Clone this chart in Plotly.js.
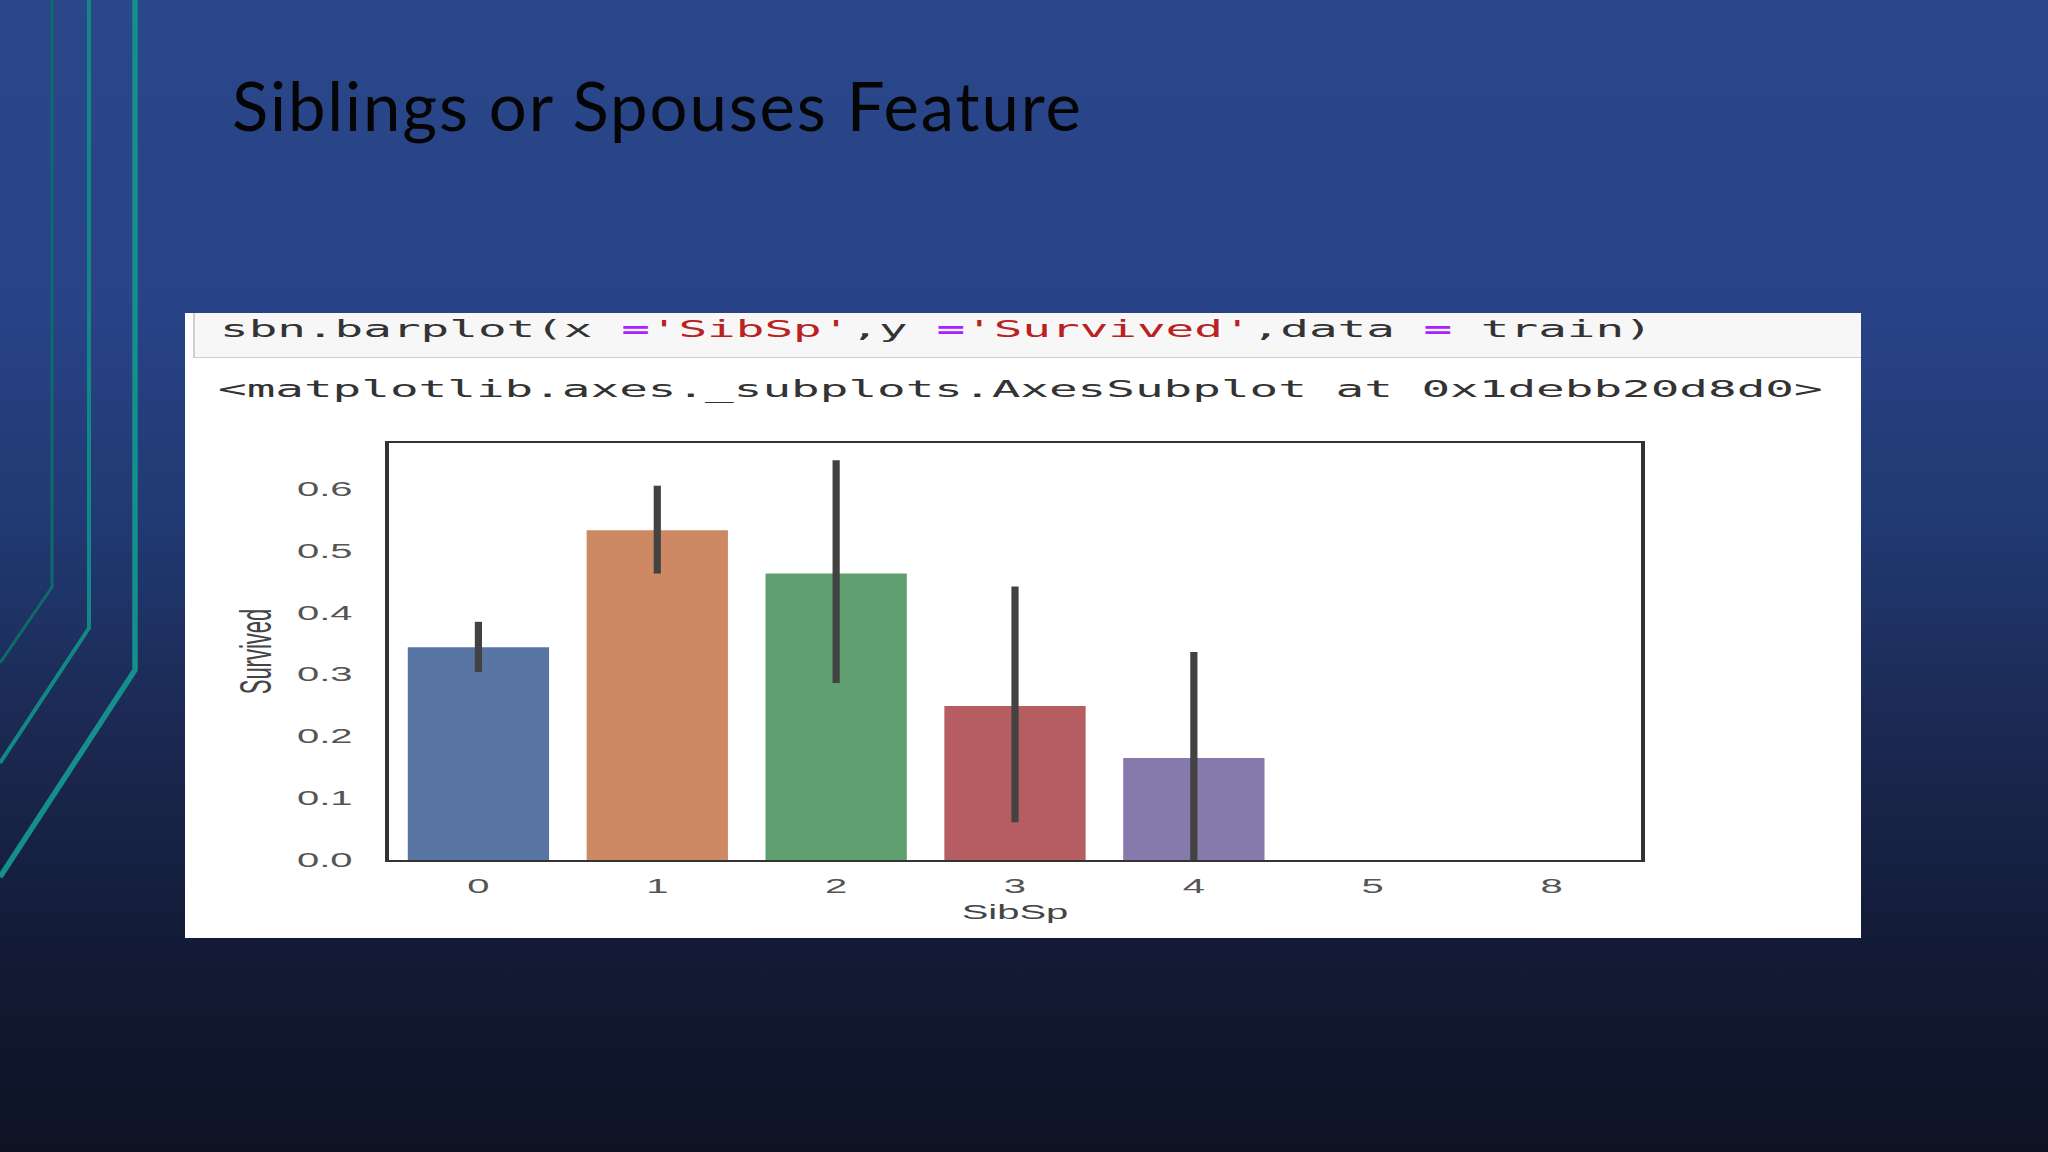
<!DOCTYPE html>
<html>
<head>
<meta charset="utf-8">
<script src="https://cdn.plot.ly/plotly-3.0.1.min.js"></script>
<style>
html,body{margin:0;padding:0;width:2048px;height:1152px;overflow:hidden;}
body{position:relative;background:linear-gradient(to bottom,#2a478a 0%,#284387 26%,#213a73 45%,#1b2851 64%,#121a35 83%,#0e1324 100%);}
#deco{position:absolute;left:0;top:0;}
#panel{position:absolute;left:185px;top:313px;width:838px;height:625px;background:#ffffff;transform:scaleX(2);transform-origin:0 0;overflow:hidden;}
#cell{position:absolute;left:4px;top:-1px;width:840px;height:46px;background:#f7f7f7;border:1px solid #cfcfcf;box-sizing:border-box;}
.code{position:absolute;font-family:"DejaVu Sans Mono",monospace;font-size:23.8px;white-space:pre;line-height:24px;color:#333;}
.op{color:#aa22ff;font-weight:bold;}
.str{color:#ba2121;}
#chart{position:absolute;left:0;top:0;width:838px;height:625px;}
</style>
</head>
<body>
<svg id="deco" width="2048" height="1152">
  <polyline points="52,0 52,587 0,663" fill="none" stroke="#0d6b6c" stroke-width="3"/>
  <polyline points="89,0 89,628 0,763" fill="none" stroke="#128785" stroke-width="4"/>
  <polyline points="135,0 135,670 0,877" fill="none" stroke="#158f8b" stroke-width="5.5"/>
  <text x="232" y="131" font-family="Lato" font-size="67" fill="#050505" textLength="849" lengthAdjust="spacing">Siblings or Spouses Feature</text>
</svg>
<div id="panel">
  <div id="cell"></div>
  <div class="code" style="left:17.5px;top:4px;">sbn.barplot(x <span class="op">=</span><span class="str">'SibSp'</span>,y <span class="op">=</span><span class="str">'Survived'</span>,data <span class="op">=</span> train)</div>
  <div class="code" style="left:16.5px;top:64px;">&lt;matplotlib.axes._subplots.AxesSubplot at 0x1debb20d8d0&gt;</div>
  <div id="chart"></div>
</div>
<script>
// Data
const sibsp = ['0', '1', '2', '3', '4', '5', '8'];
const survived = [0.344, 0.533, 0.463, 0.249, 0.165, 0, 0];
const ciLow = [0.304, 0.463, 0.286, 0.061, 0.0, 0, 0];
const ciHigh = [0.385, 0.605, 0.646, 0.442, 0.336, 0, 0];
const barColors = ['#5975a4', '#cc8963', '#5f9e6e', '#b55d60', '#857aab', '#8d7866', '#d095bf'];
const yTickVals = [0, 0.1, 0.2, 0.3, 0.4, 0.5, 0.6];
const yTickText = ['0.0', '0.1', '0.2', '0.3', '0.4', '0.5', '0.6'];

const errPlus = survived.map((v, i) => ciHigh[i] - v);
const errMinus = survived.map((v, i) => v - ciLow[i]);

const tickFont = {family: 'Liberation Sans, Arial, sans-serif', size: 20, color: '#555555'};

const trace = {
  type: 'bar',
  x: sibsp,
  y: survived,
  marker: {color: barColors, line: {width: 0}},
  error_y: {
    type: 'data', symmetric: false,
    array: errPlus, arrayminus: errMinus,
    color: '#424242', thickness: 3.6, width: 0
  },
  hoverinfo: 'skip'
};

const layout = {
  width: 838, height: 625,
  margin: {l: 102, r: 110, t: 130, b: 78, pad: 0},
  paper_bgcolor: 'rgba(0,0,0,0)',
  plot_bgcolor: '#ffffff',
  bargap: 0.21,
  showlegend: false,
  xaxis: {
    type: 'category', range: [-0.5, 6.5],
    showline: true, mirror: true, linecolor: '#333333', linewidth: 2.2,
    ticks: '', showgrid: false, zeroline: false,
    tickfont: tickFont, ticklabelstandoff: 7,
    title: {text: 'SibSp', font: {family: 'Liberation Sans, Arial, sans-serif', size: 20, color: '#444444'}, standoff: 9}
  },
  yaxis: {
    range: [0, 0.674],
    tickvals: yTickVals, ticktext: yTickText,
    showline: true, mirror: true, linecolor: '#333333', linewidth: 2.2,
    ticks: 'outside', ticklen: 12, tickcolor: 'rgba(0,0,0,0)', tickwidth: 1,
    showgrid: false, zeroline: false,
    tickfont: tickFont,
    title: {text: 'Survived', font: {family: 'Liberation Sans, Arial, sans-serif', size: 22, color: '#444444'}, standoff: 6.5}
  }
};

Plotly.newPlot('chart', [trace], layout, {staticPlot: true, displayModeBar: false});
</script>
</body>
</html>
